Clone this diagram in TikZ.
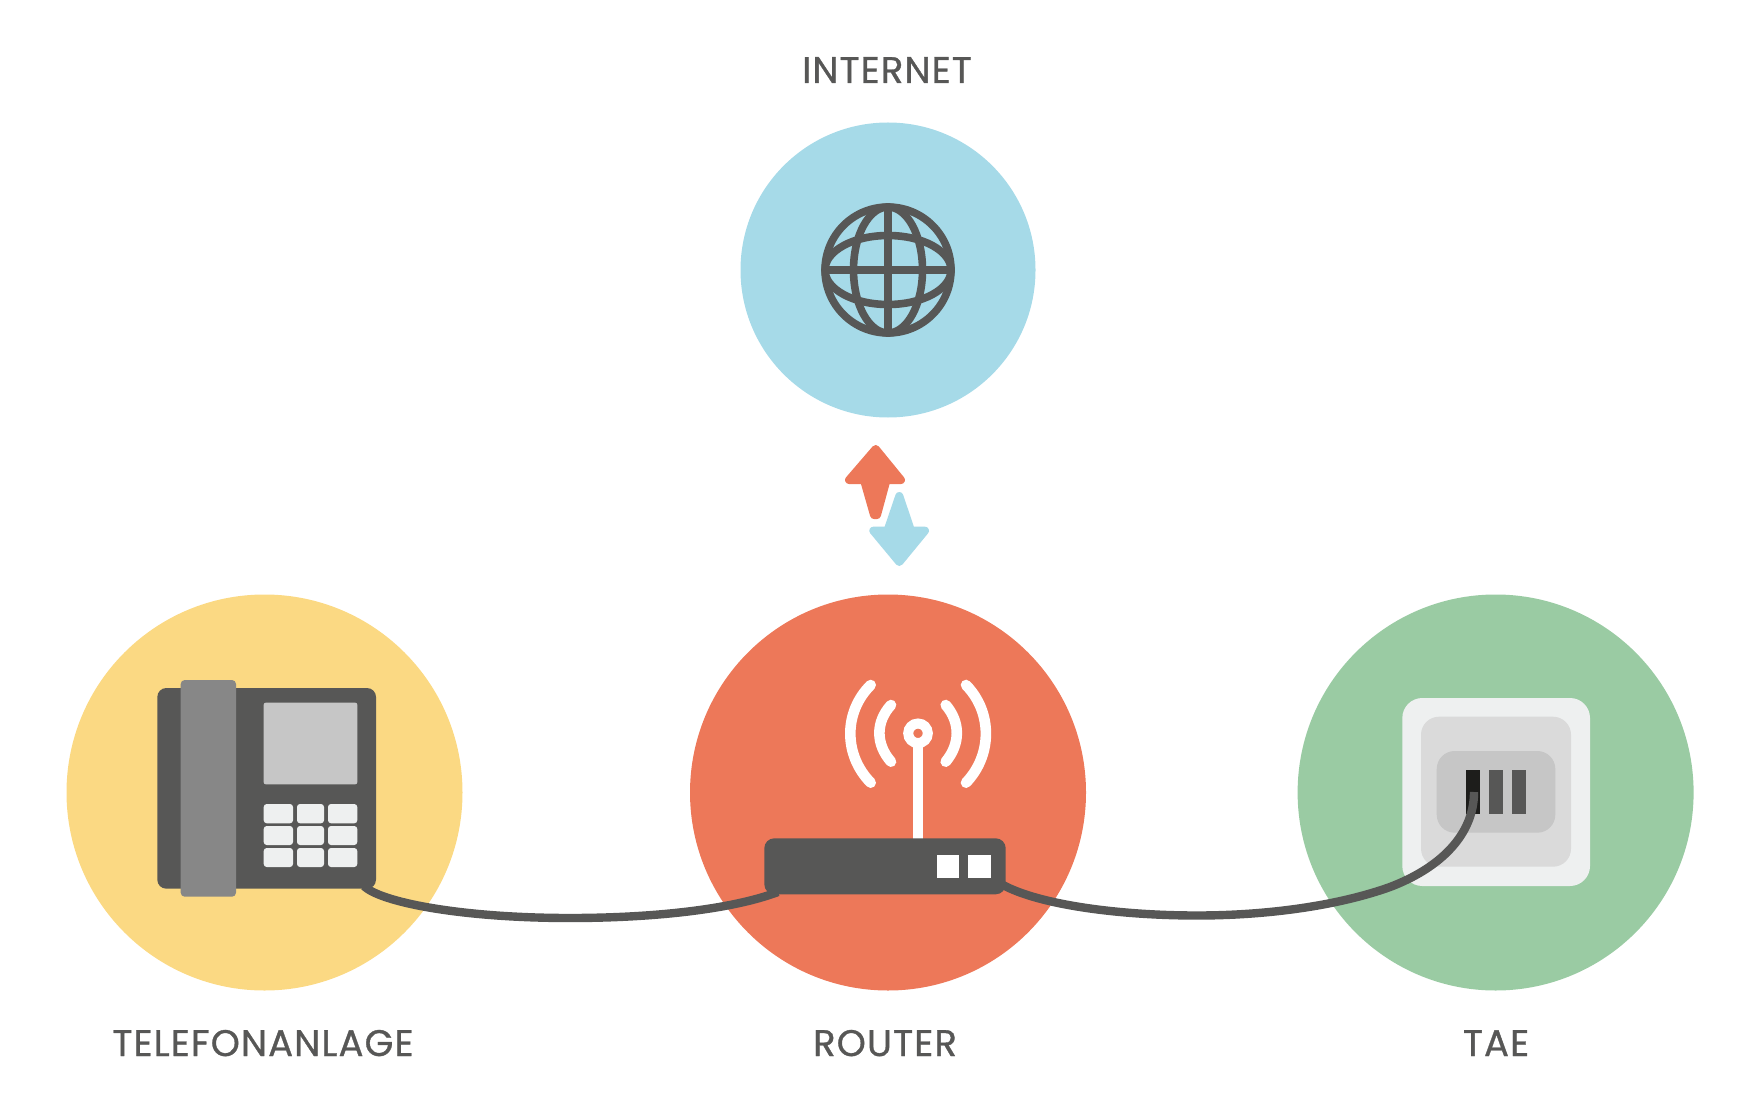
\documentclass[tikz,border=0pt]{standalone}
\usepackage{fontspec}
\setmainfont{Poppins}[FakeBold=0.9,LetterSpace=3.1]
\definecolor{skyc}{HTML}{A6DAE8}
\definecolor{redc}{HTML}{ED7859}
\definecolor{yelc}{HTML}{FBD983}
\definecolor{grnc}{HTML}{9ACBA3}
\definecolor{dark}{HTML}{575756}
\definecolor{midg}{HTML}{878787}
\definecolor{scrn}{HTML}{C6C6C6}
\definecolor{keyc}{HTML}{EEF0F0}
\definecolor{faceg}{HTML}{DADADA}
\definecolor{blk}{HTML}{1D1D1B}
\newcommand\pxbox[7]{%
  \pgfmathsetmacro\bxc{(#2+#4)/2}\pgfmathsetmacro\byc{(#3+#5)/2}%
  \pgfmathsetmacro\bw{(#4-#2)*0.5}\pgfmathsetmacro\bh{(#5-#3)*0.5}\pgfmathsetmacro\br{#7*0.5}%
  \node[pxrect,fill=#6,rounded corners=\br pt,minimum width=\bw pt,minimum height=\bh pt] (#1) at (\bxc,\byc) {};}
\tikzset{
  pxrect/.style={rectangle,draw=none,inner sep=0pt,outer sep=0pt},
  disc/.style={circle,draw=none,inner sep=0pt,outer sep=0pt,minimum size=#1*1pt},
  label text/.style={anchor=base,text=dark,inner sep=0pt,font=\fontsize{18.5}{20}\selectfont},
  cable/.style={draw=dark,line width=4.2pt,line cap=butt},
  globeline/.style={draw=dark,line width=3.8pt},
  wave/.style={draw=white,line width=5.3pt,line cap=round},
  arrowshape/.style={line width=4pt,line join=round}
}
\begin{document}
\begin{tikzpicture}[x=0.5pt,y=-0.5pt]
\useasboundingbox (0,0) rectangle (1754,1117);
% circles
\node[disc=147.5,fill=skyc] (internetc) at (888,270) {};
\node[disc=198,fill=yelc] (phonec) at (264.5,792.5) {};
\node[disc=198,fill=redc] (routerc) at (888,792.5) {};
\node[disc=198,fill=grnc] (taec) at (1495.6,792.5) {};
% globe
\draw[globeline] (888,270) circle[radius=63];
\draw[globeline] (888,270) ellipse[x radius=34.5,y radius=63];
\draw[globeline] (888,270) ellipse[x radius=63,y radius=34.5];
\draw[globeline] (888,207) -- (888,333);
\draw[globeline] (825,270) -- (951,270);
% up / down arrows
\fill[redc,draw=redc,arrowshape] (875.7,449) -- (901,480) -- (886.5,480) -- (877,515) -- (874,515) -- (864,480) -- (849,480) -- cycle;
\fill[white,draw=white,line width=9pt,line join=round] (899.3,496) -- (911,530.7) -- (925,530.7) -- (899.3,562) -- (873.3,530.7) -- (887.5,530.7) -- cycle;
\fill[skyc,draw=skyc,arrowshape] (899.3,496) -- (911,530.7) -- (925,530.7) -- (899.3,562) -- (873.3,530.7) -- (887.5,530.7) -- cycle;
% cable anchor points
\coordinate (phoneout) at (364,886);
\coordinate (routerl) at (778,892);
\coordinate (routerr) at (1003,885);
\coordinate (taeplug) at (1474,792);
% phone
\pxbox{phonebody}{157.3}{688}{376}{888.7}{dark}{9}
\draw[cable] (phoneout) .. controls (380,902) and (460,918) .. (570,918) .. controls (650,918) and (730,910) .. (routerl);
\pxbox{handset}{180.7}{680}{236}{896.7}{midg}{4}
\pxbox{screen}{263.7}{702.7}{357.3}{784.3}{scrn}{2}
\pxbox{keya}{263.7}{804}{293}{823.3}{keyc}{3}
\pxbox{keyb}{297}{804}{324}{823.3}{keyc}{3}
\pxbox{keyc}{328}{804}{357.3}{823.3}{keyc}{3}
\pxbox{keyd}{263.7}{826}{293}{845}{keyc}{3}
\pxbox{keye}{297}{826}{324}{845}{keyc}{3}
\pxbox{keyf}{328}{826}{357.3}{845}{keyc}{3}
\pxbox{keyg}{263.7}{848}{293}{867}{keyc}{3}
\pxbox{keyh}{297}{848}{324}{867}{keyc}{3}
\pxbox{keyi}{328}{848}{357.3}{867}{keyc}{3}
% router
\draw[wave] (870.7,685) .. controls (843.5,712) and (843.5,755) .. (870.7,782.7);
\draw[wave] (891,705) .. controls (875.5,722) and (875.5,744) .. (891,761.7);
\draw[wave] (966,685) .. controls (992.5,712) and (992.5,755) .. (966,782.7);
\draw[wave] (945.7,705) .. controls (960.5,722) and (960.5,744) .. (945.7,761.7);
\draw[draw=white,line width=5pt] (918,745) -- (918,840);
\draw[draw=white,line width=5pt] (918,733.3) circle[radius=9.8];
\pxbox{routerbody}{764.3}{838.3}{1005.7}{894.3}{dark}{10}
\pxbox{portA}{936.7}{855}{959.3}{877.7}{white}{0}
\pxbox{portB}{968.3}{855}{991}{877.7}{white}{0}
% socket
\pxbox{taeouter}{1402.3}{698}{1590}{886}{keyc}{20}
\pxbox{taemid}{1421}{716.7}{1571}{866.7}{faceg}{18}
\pxbox{taeinner}{1436.7}{751}{1555.3}{832.7}{scrn}{18}
\pxbox{slotA}{1466.3}{770}{1480.3}{814.3}{blk}{0}
\pxbox{slotB}{1489}{770}{1503}{814.3}{dark}{0}
\pxbox{slotC}{1511.7}{770}{1525.7}{814.3}{dark}{0}
\draw[cable] (routerr) .. controls (1040,905) and (1120,915.5) .. (1197,915.5) .. controls (1270,915.5) and (1340,905) .. (1390,887) .. controls (1440,868) and (1474,835) .. (taeplug);
% labels
\node[label text] (internetl) at (887,83) {INTERNET};
\node[label text] (phonel) at (263,1056) {TELEFONANLAGE};
\node[label text] (routerl2) at (885,1056) {ROUTER};
\node[label text] (tael) at (1496,1056) {TAE};
\end{tikzpicture}
\end{document}
